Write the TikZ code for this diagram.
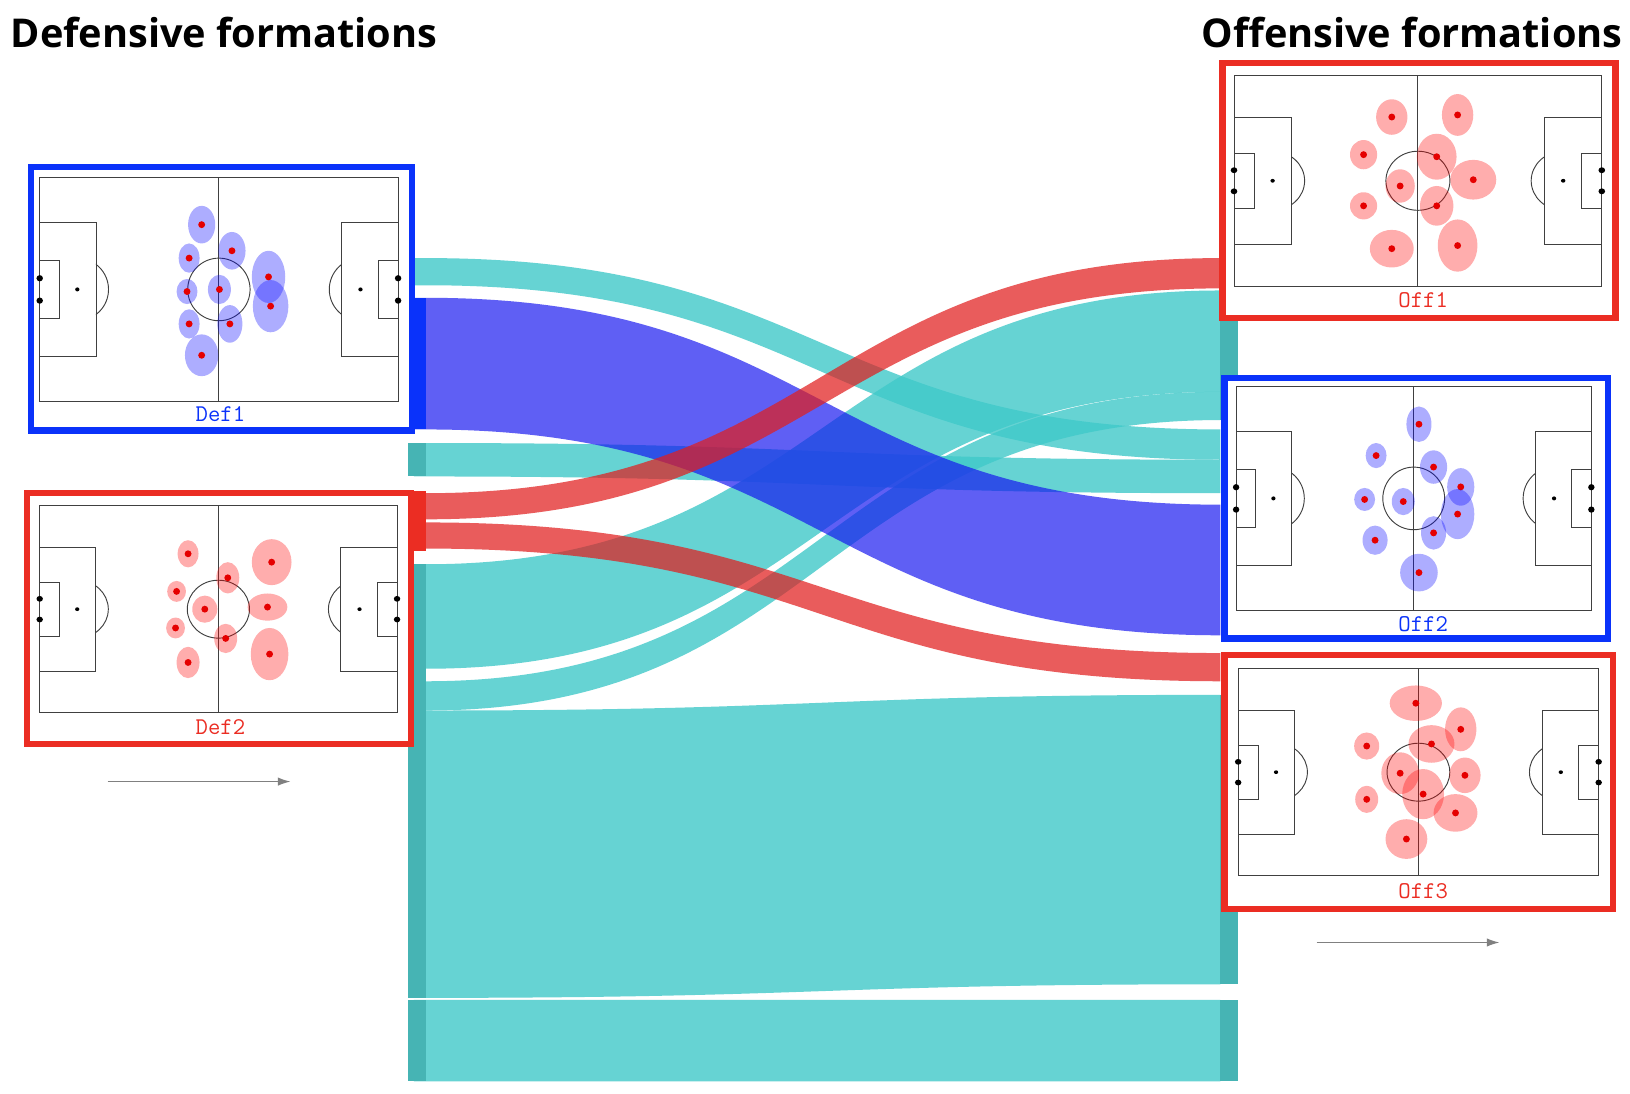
\documentclass[tikz,border=0pt]{standalone}
\usepackage{fontspec}
\setmainfont{Open Sans}
\usetikzlibrary{arrows.meta}
\definecolor{tealc}{RGB}{64,201,201}
\definecolor{tealbar}{RGB}{70,180,180}
\definecolor{bluec}{RGB}{20,20,240}
\definecolor{redc}{RGB}{225,30,30}
\definecolor{bbord}{RGB}{10,50,250}
\definecolor{rbord}{RGB}{235,45,35}
\tikzset{
  flowT/.style={fill=tealc,fill opacity=0.8,draw=none},
  flowB/.style={fill=bluec,fill opacity=0.68,draw=none},
  flowR/.style={fill=redc,fill opacity=0.72,draw=none},
  pline/.style={draw=black!75,line width=0.9pt},
  bluebox/.style={draw=bbord,line width=6pt,fill=white},
  redbox/.style={draw=rbord,line width=6pt,fill=white},
  lab/.style={font=\ttfamily\fontsize{23}{23}\selectfont,inner sep=0pt},
  ttl/.style={font=\bfseries\fontsize{38}{38}\selectfont,inner sep=0pt},
  garrow/.style={draw=gray,line width=1.2pt,-{Latex[length=12pt,width=8pt]}},
}
\newcommand\flowband[5]{% style, lt, lb, rt, rb
  \path[#1] (396,#2) -- (408,#2) .. controls (788,#2) and (788,#4) .. (1168,#4)
    -- (1168,#5) .. controls (788,#5) and (788,#3) .. (408,#3) -- (396,#3) -- cycle;}
\newcommand\halfpitch{%
  \draw[pline] (0,0.2) rectangle (0.157,0.8);
  \draw[pline] (0,0.37) rectangle (0.055,0.63);
  \fill (0.105,0.5) circle[x radius=0.006,y radius=0.009];
  \fill (0,0.45) circle[x radius=0.009,y radius=0.014];
  \fill (0,0.55) circle[x radius=0.009,y radius=0.014];
  \begin{scope}\clip (0.157,0) rectangle (0.3,1);
  \draw[pline] (0.105,0.5) circle[x radius=0.087,y radius=0.14];\end{scope}}
\newcommand\pitchat[4]{%
  \pgfmathsetmacro\pw{#3-#1}\pgfmathsetmacro\ph{#4-#2}%
  \begin{scope}[shift={(#1,#2)},x={(\pw pt,0pt)},y={(0pt,-\ph pt)}]
  \draw[pline] (0,0) rectangle (1,1);
  \draw[pline] (0.5,0) -- (0.5,1);
  \draw[pline] (0.5,0.5) circle[x radius=0.087,y radius=0.14];
  \halfpitch
  \begin{scope}[shift={(1,0)},xscale=-1]\halfpitch\end{scope}
  \end{scope}}
\newcommand\pl[5]{% x y rx ry color
  \fill[#5,fill opacity=0.32] (#1,#2) circle[x radius=#3,y radius=#4];
  \fill[red!90!black] (#1,#2) circle[radius=3.3];}
\begin{document}
\begin{tikzpicture}[x=1pt,y=-1pt]
\useasboundingbox[fill=white] (0,0) rectangle (1560,1047);
\node[ttl,anchor=base west] (t1) at (10,45) {Defensive formations};
\node[ttl,anchor=base east] (t2) at (1553,45) {Offensive formations};
% flows
\flowband{flowT}{247}{273}{411}{440}
\flowband{flowT}{424}{456}{440}{472}
\flowband{flowT}{540}{640}{278}{375}
\flowband{flowT}{652}{680}{375}{402}
\flowband{flowT}{680}{955}{665}{942}
\flowband{flowT}{957}{1035}{957}{1035}
\flowband{flowB}{285}{411}{483}{608}
\flowband{flowR}{472}{497}{247}{276}
\flowband{flowR}{500}{525}{625}{652}
% bars
\fill[tealbar] (390,424) rectangle (408,456);
\fill[tealbar] (390,540) rectangle (408,955);
\fill[tealbar] (390,957) rectangle (408,1035);
\fill[tealbar] (1168,276) rectangle (1185,402);
\fill[tealbar] (1168,665) rectangle (1185,942);
\fill[tealbar] (1168,957) rectangle (1185,1035);
\fill[bbord] (393,285) rectangle (408,411);
\fill[rbord] (393,470) rectangle (408,527);
% boxes
\draw[bluebox] (30,160) rectangle (394,412);
\draw[redbox] (26,472) rectangle (393,712);
\draw[redbox] (1170,60) rectangle (1546,304);
\draw[bluebox] (1172,362) rectangle (1539,611);
\draw[redbox] (1172,627) rectangle (1544,870);
\pitchat{38}{170}{381}{384}
\pitchat{38}{484}{380}{682}
\pitchat{1181}{72}{1533}{274}
\pitchat{1183}{370}{1523}{584}
\pitchat{1185}{640}{1530}{838}
% players Def1
\pl{193}{215}{13}{18}{blue}\pl{181}{247}{10}{14}{blue}\pl{222}{240}{13}{18}{blue}
\pl{179}{279}{10}{12}{blue}\pl{210}{277}{11}{14}{blue}\pl{257}{265}{16}{25}{blue}
\pl{259}{293}{17}{25}{blue}\pl{181}{310}{10}{14}{blue}\pl{220}{310}{12}{18}{blue}
\pl{193}{340}{16}{20}{blue}
% Def2
\pl{180}{530}{10}{13}{red}\pl{218}{553}{11}{15}{red}\pl{260}{538}{19}{22}{red}
\pl{169}{566}{9}{10}{red}\pl{196}{583}{12}{13}{red}\pl{256}{581}{19}{13}{red}
\pl{168}{601}{9}{10}{red}\pl{216}{611}{11}{14}{red}\pl{258}{626}{18}{25}{red}
\pl{180}{634}{11}{15}{red}
% Off1
\pl{1332}{112}{15}{17}{red}\pl{1395}{110}{15}{20}{red}\pl{1305}{148}{13}{14}{red}
\pl{1375}{150}{19}{22}{red}\pl{1340}{178}{14}{16}{red}\pl{1410}{172}{22}{19}{red}
\pl{1305}{197}{13}{13}{red}\pl{1375}{197}{16}{19}{red}\pl{1332}{238}{21}{18}{red}
\pl{1395}{235}{19}{25}{red}
% Off2
\pl{1358}{406}{12}{17}{blue}\pl{1317}{436}{10}{12}{blue}\pl{1372}{447}{13}{16}{blue}
\pl{1306}{478}{10}{11}{blue}\pl{1343}{480}{11}{13}{blue}\pl{1398}{466}{13}{18}{blue}
\pl{1395}{492}{16}{24}{blue}\pl{1316}{517}{12}{14}{blue}\pl{1372}{510}{12}{16}{blue}
\pl{1358}{548}{18}{18}{blue}
% Off3
\pl{1355}{673}{25}{17}{red}\pl{1398}{698}{15}{21}{red}\pl{1308}{714}{12}{13}{red}
\pl{1370}{712}{22}{18}{red}\pl{1340}{740}{18}{20}{red}\pl{1402}{742}{15}{17}{red}
\pl{1308}{765}{11}{13}{red}\pl{1362}{760}{20}{24}{red}\pl{1393}{778}{21}{18}{red}
\pl{1346}{803}{20}{19}{red}
% labels
\node[lab,text=bbord] (l1) at (211,396) {Def1};
\node[lab,text=rbord] (l2) at (211,696) {Def2};
\node[lab,text=rbord] (l3) at (1362,287) {Off1};
\node[lab,text=bbord] (l4) at (1362,597) {Off2};
\node[lab,text=rbord] (l5) at (1362,853) {Off3};
\coordinate (a1) at (103,748); \coordinate (a2) at (278,748);
\coordinate (a3) at (1260,902); \coordinate (a4) at (1435,902);
\draw[garrow] (a1) -- (a2);
\draw[garrow] (a3) -- (a4);
\end{tikzpicture}
\end{document}
